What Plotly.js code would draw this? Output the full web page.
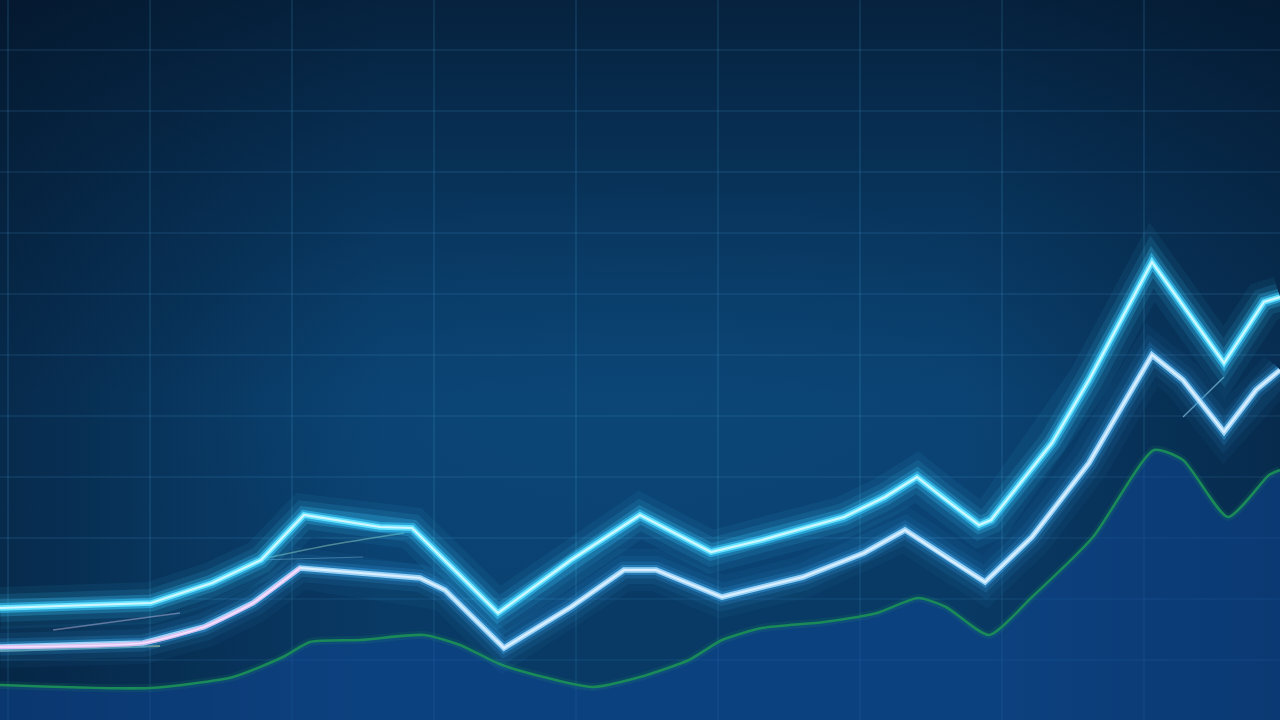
<!DOCTYPE html>
<html>
<head>
<meta charset="utf-8">
<script src="https://cdn.plot.ly/plotly-3.0.1.min.js"></script>
<style>
html,body{margin:0;padding:0;width:1280px;height:720px;overflow:hidden;background:#062a4a;}
#chart{width:1280px;height:720px;
background:
 radial-gradient(ellipse 50% 40% at 50% 55%, rgba(14,80,130,0.30), rgba(0,0,0,0) 75%),
 linear-gradient(to bottom, rgba(3,14,30,0.62) 0%, rgba(3,14,30,0.25) 30%, rgba(0,0,0,0) 55%),
 linear-gradient(to right, rgba(3,14,30,0.45) 0%, rgba(0,0,0,0) 30%, rgba(0,0,0,0) 75%, rgba(3,14,30,0.35) 100%),
 #0a4272;}
</style>
</head>
<body>
<div id="chart"></div>
<script>
// --- data ---
const cyanX  = [0,151,212,261,304,380,412,498,571,640,711,762,844,885,917,942,979,991,1052,1089,1152,1224,1264,1280];
const cyanY  = [112,117,137,160,205,193,192,107,160,205,168,180,203,223,243,223,195,200,277,340,458,357,418,423];

const whiteX = [0,143,204,253,300,360,420,445,504,571,624,656,722,803,864,905,950,985,1032,1089,1152,1183,1224,1256,1280];
const whiteY = [73,77,93,117,152,147,142,130,72,113,150,150,123,143,167,190,160,138,183,257,365,340,288,330,350];

const greenX = [0,150,233,283,310,360,424,460,502,592,640,689,722,762,824,877,918,946,989,1032,1093,1154,1183,1228,1269,1280];
const greenY = [35,32,43,63,78,80,85,75,55,33,43,60,80,92,98,107,122,113,85,123,183,270,260,203,245,250];

const pinkX  = [0,143,204,253,300];
const pinkY  = [73,77,93,117,152];

const faintAX = [53,180];        const faintAY = [90,107];
const faintBX = [0,160];         const faintBY = [69,74];
const faintCX = [257,330,404];   const faintCY = [160,175,187];
const faintDX = [257,363];       const faintDY = [160,163];
const faintEX = [1183,1224];     const faintEY = [303,343];

// --- traces ---
const traces = [];
function line(x, y, color, width, opacity, shape){
  traces.push({type:'scatter', mode:'lines', x:x, y:y, hoverinfo:'skip',
    opacity:opacity, line:{color:color, width:width, shape:shape||'linear', smoothing:0.6}});
}
function glow(x, y, glowColor, core, hot, shape, k){
  line(x, y, glowColor, 42, 0.05*k, shape);
  line(x, y, glowColor, 28, 0.09*k, shape);
  line(x, y, glowColor, 17, 0.18*k, shape);
  line(x, y, glowColor, 10, 0.40*k, shape);
  line(x, y, core, 5.5, 1, shape);
  line(x, y, hot, 2.2, 0.9, shape);
}

// area under the green line
traces.push({type:'scatter', mode:'lines', x:greenX, y:greenY, fill:'tozeroy', hoverinfo:'skip',
  fillcolor:'rgba(14,66,140,0.55)', line:{color:'rgba(0,0,0,0)', width:0, shape:'spline', smoothing:0.6}});
// darker band between green and white lines
traces.push({type:'scatter', mode:'lines', x:whiteX, y:whiteY, fill:'tonexty', hoverinfo:'skip',
  fillcolor:'rgba(3,22,45,0.18)', line:{color:'rgba(0,0,0,0)', width:0}});

// green line
line(greenX, greenY, '#1d9a66', 8, 0.14, 'spline');
line(greenX, greenY, '#1a8a58', 2.6, 1, 'spline');

// faint wisps
line(faintBX, faintBY, '#e6e08a', 2, 0.55, 'spline');
line(faintAX, faintAY, '#d8c0e8', 1.5, 0.45, 'spline');
line(faintCX, faintCY, '#9fe0c8', 1.5, 0.45, 'spline');
line(faintDX, faintDY, '#a8d8f0', 1.2, 0.35, 'spline');
line(faintEX, faintEY, '#a8e4ff', 1.5, 0.55, 'linear');

// white / light-blue line
glow(whiteX, whiteY, '#3aa8ea', '#9ad2f6', '#e2f2ff', 'linear', 1);
line(pinkX, pinkY, '#e0b8ee', 4, 0.85, 'spline');
line(pinkX, pinkY, '#f6e6ff', 1.6, 0.9, 'spline');

// bright cyan line
glow(cyanX, cyanY, '#38ccff', '#66e2ff', '#dcfaff', 'linear', 1.35);

const layout = {
  width:1280, height:720,
  margin:{l:0, r:0, t:0, b:0, pad:0},
  paper_bgcolor:'rgba(0,0,0,0)', plot_bgcolor:'rgba(0,0,0,0)',
  showlegend:false,
  xaxis:{range:[0,1280], showticklabels:false, ticks:'', zeroline:false, showline:false,
    showgrid:true, tick0:8, dtick:142, gridcolor:'rgba(70,160,210,0.15)', gridwidth:2, fixedrange:true},
  yaxis:{range:[0,720], showticklabels:false, ticks:'', zeroline:false, showline:false,
    showgrid:true, tick0:60, dtick:61, gridcolor:'rgba(70,160,210,0.12)', gridwidth:2, fixedrange:true}
};
Plotly.newPlot('chart', traces, layout, {staticPlot:true, displayModeBar:false});
</script>
</body>
</html>
